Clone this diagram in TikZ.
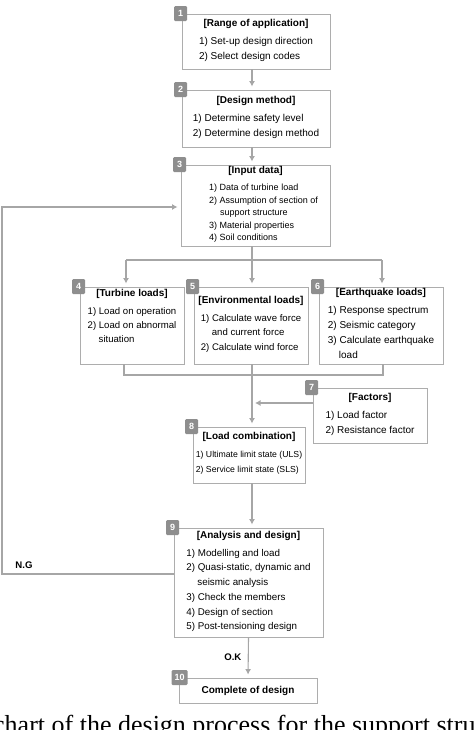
\documentclass[tikz,border=0pt]{standalone}
\usepackage{fontspec}
\setmainfont{Liberation Sans}
\newfontfamily\capfont{Liberation Serif}
\usepackage{tikz}
\usetikzlibrary{arrows.meta}
\definecolor{edgegray}{HTML}{ADADAD}
\definecolor{linegray}{HTML}{A6A6A6}
\definecolor{badgegray}{HTML}{8E8E8E}
\renewcommand{\arraystretch}{1.25}
\newcommand{\stagepad}{0pt}
\newcommand{\stagetext}[3][4.5pt]{{\fontsize{10}{12}\selectfont\textbf{[#2]}}\\[#1]\begin{tabular}[t]{@{\hspace{\stagepad}}l@{}}#3\end{tabular}}
\newcommand{\cont}{\hspace*{11pt}}
\tikzstyle{stage} = [draw=edgegray, line width=0.9pt, fill=white, inner sep=0pt, align=center]
\tikzstyle{badge} = [fill=badgegray, text=white, font=\bfseries\fontsize{9}{10}\selectfont, minimum width=13pt, minimum height=15pt, inner sep=1pt, rounded corners=1.2pt]
\tikzstyle{wire} = [draw=linegray, line width=1.1pt]
\tikzstyle{flow} = [wire, ->, shorten >=3pt]

\begin{document}
\begin{tikzpicture}[x=1pt, y=-1pt, >={Latex[length=5.5pt,width=6pt]}]
	\useasboundingbox (0,0) rectangle (474,730);

	\node (b1) at (256,41.5) [stage, minimum width=148pt, minimum height=55pt] {\stagetext{Range of application}{1) Set-up design direction\\ 2) Select design codes}};
	\node (b2) at (256,118.5) [stage, minimum width=148pt, minimum height=57pt] {\stagetext{Design method}{1) Determine safety level\\ 2) Determine design method}};
	\node (b3) at (255.5,205.5) [stage, minimum width=149pt, minimum height=81pt, font=\fontsize{9}{10.8}\selectfont\def\arraystretch{1.15}\def\stagepad{16pt}] {\stagetext[6.2pt]{Input data}{1) Data of turbine load\\ 2) Assumption of section of\\ \cont support structure\\ 3) Material properties\\ 4) Soil conditions}};
	\node (b4) at (132,325.5) [stage, minimum width=104pt, minimum height=77pt, font=\fontsize{9.6}{11.5}\selectfont] {\stagetext{Turbine loads}{1) Load on operation\\ 2) Load on abnormal\\ \cont situation\\ \mbox{}}};
	\node (b5) at (251,325.5) [stage, minimum width=114pt, minimum height=77pt, font=\fontsize{9.6}{11.5}\selectfont] {\stagetext{Environmental loads}{1) Calculate wave force\\ \cont and current force\\ 2) Calculate wind force}};
	\node (b6) at (381,325.5) [stage, minimum width=124pt, minimum height=77pt] {\stagetext{Earthquake loads}{1) Response spectrum\\ 2) Seismic category\\ 3) Calculate earthquake\\ \cont load}};
	\node (b7) at (370,415.5) [stage, minimum width=114pt, minimum height=55pt] {\stagetext{Factors}{1) Load factor\\ 2) Resistance factor}};
	\node (b8) at (249,455) [stage, minimum width=112pt, minimum height=56pt, font=\fontsize{8.7}{10.4}\selectfont\def\arraystretch{1.5}] {\stagetext[3.3pt]{Load combination}{1) Ultimate limit state (ULS)\\ 2) Service limit state (SLS)}};
	\node (b9) at (248.5,582.5) [stage, minimum width=149pt, minimum height=109pt, font=\fontsize{9.8}{11.8}\selectfont] {\stagetext{Analysis and design}{1) Modelling and load\\ 2) Quasi-static, dynamic and\\ \cont seismic analysis\\ 3) Check the members\\ 4) Design of section\\ 5) Post-tensioning design}};
	\node (b10) at (248,690.5) [stage, minimum width=138pt, minimum height=25pt, font=\bfseries] {Complete of design};

	\node (n1) at ([xshift=-1pt]b1.north west) [badge] {1};
	\node (n2) at ([xshift=-1pt]b2.north west) [badge] {2};
	\node (n3) at ([xshift=-1pt]b3.north west) [badge] {3};
	\node (n4) at ([xshift=-1pt]b4.north west) [badge] {4};
	\node (n5) at ([xshift=-1pt]b5.north west) [badge] {5};
	\node (n6) at ([xshift=-1pt]b6.north west) [badge] {6};
	\node (n7) at ([xshift=-1pt]b7.north west) [badge] {7};
	\node (n8) at ([xshift=-1pt]b8.north west) [badge] {8};
	\node (n9) at ([xshift=-1pt]b9.north west) [badge] {9};
	\node (n10) at ([xshift=1pt]b10.north west) [badge, minimum width=16pt] {10};

	\coordinate (col) at (252,0);
	\coordinate (bus1) at (0,260);
	\coordinate (up4) at (126,260);
	\coordinate (up6) at (382,260);
	\coordinate (dn4) at (124,375);
	\coordinate (dn6) at (383,375);
	\coordinate (fac) at (0,403);
	\coordinate (ng) at (2,574);
	\coordinate (in3) at (2,207);

	\draw [flow] (b1.south -| col) to (b2.north -| col);
	\draw [flow] (b2.south -| col) to (b3.north -| col);
	\draw [wire] (b3.south -| col) to (bus1 -| col);
	\draw [wire] (up4) to (up6);
	\draw [flow] (up4) to (up4 |- b4.north);
	\draw [flow] (bus1 -| col) to (b5.north -| col);
	\draw [flow] (up6) to (up6 |- b6.north);
	\draw [wire] (dn4 |- b4.south) -- (dn4) -- (dn6) -- (dn6 |- b6.south);
	\draw [flow] (b5.south -| col) to (b8.north -| col);
	\draw [flow] (b7.west |- fac) to (fac -| col);
	\draw [flow] (b8.south -| col) to (b9.north -| col);
	\draw [flow] (b9.south) to node [left=3pt, text=black, font=\bfseries\fontsize{9.6}{11}\selectfont] {O.K} (b10.north);
	\draw [flow] (b9.west |- ng) -- (ng) -- (in3) -- (b3.west |- in3);

	\node (nglabel) at (24,565) [font=\bfseries\fontsize{9.6}{11}\selectfont] {N.G};
	\node (cap) at (-7,733) [anchor=base west, inner sep=0pt, font=\capfont\fontsize{26}{30}\selectfont] {chart of the design process for the support structure of};
\end{tikzpicture}
\end{document}
